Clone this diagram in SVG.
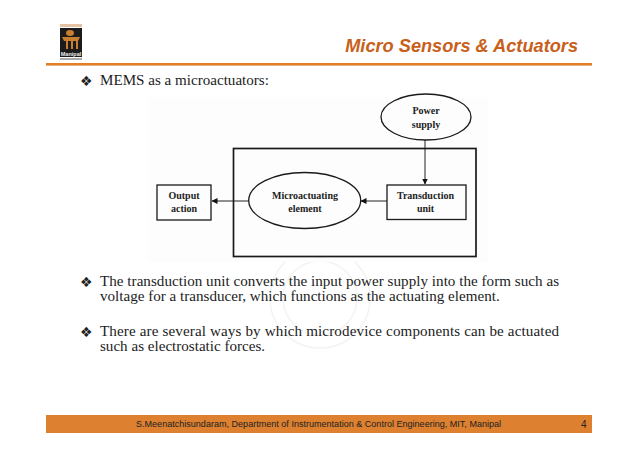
<svg xmlns="http://www.w3.org/2000/svg" width="638" height="451" viewBox="0 0 638 451">
<style>
.body{font-family:"Liberation Serif",serif;font-size:15.1px;fill:#1c1c1c}
.dia{font-family:"Liberation Serif",serif;font-size:10px;font-weight:bold;fill:#222;text-anchor:middle}
.shape{fill:none;stroke:#1a1a1a;stroke-width:1.3}
.conn{fill:none;stroke:#222;stroke-width:1}
.mark{font-family:"DejaVu Sans",sans-serif;font-size:14px;fill:#222}
</style>
<defs>
<marker id="arr" markerWidth="7" markerHeight="7" refX="5.5" refY="3" orient="auto" markerUnits="userSpaceOnUse"><path d="M0,0L6,3L0,6Z" fill="#111"/></marker>
</defs>
<rect width="638" height="451" fill="#fff"/>
<g id="header">
<rect x="60" y="28" width="22" height="29" fill="#1b1b1b"/>
<rect x="60" y="24" width="22" height="3" fill="#e3c3a3"/>
<rect x="60" y="58" width="22" height="2" fill="#aaa"/>
<ellipse cx="70" cy="33" rx="4" ry="3" fill="#c77f2f"/>
<path d="M62,37H80L78,41V49H76V41H73V49H71V41H68V49H66V41H64Z" fill="#c77f2f"/>
<text x="71" y="55.500" text-anchor="middle" font-family="Liberation Sans, sans-serif" font-size="5.500" font-weight="bold" fill="#eee">Manipal</text>
<rect x="46" y="63" width="546" height="2.6" fill="#e07f26"/>
<text x="578" y="52" text-anchor="end" font-family="Liberation Sans, sans-serif" font-size="18.200" font-weight="bold" font-style="italic" fill="#c8601a">Micro Sensors &amp; Actuators</text>
</g>
<g id="watermark" fill="none" stroke="#f3f3f3" stroke-width="1.5">
<circle cx="320" cy="298" r="50"/>
<circle cx="320" cy="298" r="37"/>
</g>
<rect x="148" y="97" width="340" height="165" fill="#fdfdfd"/>
<text class="mark" x="80" y="86">❖</text>
<text class="body" x="100" y="85">MEMS as a microactuators:</text>
<g id="connectors">
<path class="conn" d="M425,140V184" marker-end="url(#arr)"/>
<path class="conn" d="M387,201H361" marker-end="url(#arr)"/>
<path class="conn" d="M249,201H212" marker-end="url(#arr)"/>
</g>
<g id="container"><rect class="shape" x="233.500" y="148.500" width="242.500" height="108" style="stroke-width:1.7"/></g>
<g id="power"><ellipse class="shape" cx="426" cy="117" rx="45" ry="23"/><text class="dia" x="426" y="114">Power</text><text class="dia" x="426" y="128">supply</text></g>
<g id="micro"><ellipse class="shape" cx="304.700" cy="200.500" rx="56" ry="28"/><text class="dia" x="305" y="199">Microactuating</text><text class="dia" x="305" y="212">element</text></g>
<g id="transduction"><rect class="shape" x="387" y="185" width="79" height="34.500"/><text class="dia" x="425.500" y="199">Transduction</text><text class="dia" x="425.500" y="212">unit</text></g>
<g id="output"><rect class="shape" x="157" y="185" width="54" height="35"/><text class="dia" x="184" y="199">Output</text><text class="dia" x="184" y="212">action</text></g>
<text class="mark" x="80" y="287">❖</text>
<text class="body" x="100" y="286" textLength="459">The transduction unit converts the input power supply into the form such as</text>
<text class="body" x="100" y="301">voltage for a transducer, which functions as the actuating element.</text>
<text class="mark" x="80" y="337">❖</text>
<text class="body" x="100" y="336" textLength="459">There are several ways by which microdevice components can be actuated</text>
<text class="body" x="100" y="351">such as electrostatic forces.</text>
<g id="footer">
<rect x="46" y="415" width="546" height="18" fill="#dd8030"/>
<text x="136" y="427" font-family="Liberation Sans, sans-serif" font-size="9.050" fill="#222">S.Meenatchisundaram, Department of Instrumentation &amp; Control Engineering, MIT, Manipal</text>
<text x="581" y="428" font-family="Liberation Sans, sans-serif" font-size="10" fill="#222">4</text>
</g>
</svg>
